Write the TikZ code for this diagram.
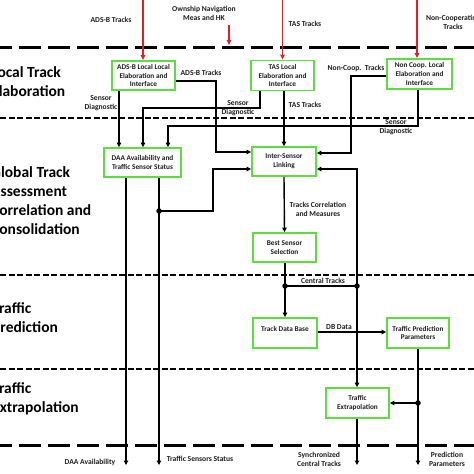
\documentclass[tikz,border=0pt]{standalone}
\usepackage{fontspec}
\setmainfont{Carlito}
\usetikzlibrary{arrows.meta}
\definecolor{boxgreen}{RGB}{92,222,62}
\definecolor{arrred}{RGB}{226,30,38}
\definecolor{txt}{RGB}{30,30,30}
\begin{document}
\begin{tikzpicture}[x=1pt,y=-1pt,
  fn/.style={font=\bfseries\fontsize{7.3}{8.7}\selectfont, text=txt},
  proc/.style={draw=boxgreen, line width=1.8pt, fn, align=center, inner sep=1pt},
  lbl/.style={font=\bfseries\fontsize{7.6}{9.2}\selectfont, text=txt, align=center, inner sep=0pt},
  big/.style={font=\bfseries\fontsize{15.5}{19}\selectfont, align=left, anchor=west, inner sep=0pt},
  arr/.style={line width=1.4pt, -{Triangle[length=4.5pt,width=4.5pt]}},
  ln/.style={line width=1.4pt},
  redarr/.style={line width=1.6pt, draw=arrred, -{Triangle[length=5pt,width=4.5pt]}, arrred},
  sep/.style={line width=3pt, dash pattern=on 22pt off 7pt, dash phase=10pt},
  septhin/.style={line width=2pt, dash pattern=on 6pt off 2.5pt},
  dot/.style={circle, fill=black, inner sep=0pt, minimum size=5.5pt}
]
\useasboundingbox (0,0) rectangle (474,474);
\fill[white] (0,0) rectangle (474,474);

% separators
\coordinate (s1a) at (0,47);  \coordinate (s1b) at (474,47);
\coordinate (s2a) at (0,118); \coordinate (s2b) at (474,118);
\coordinate (s3a) at (0,275); \coordinate (s3b) at (474,275);
\coordinate (s4a) at (0,369); \coordinate (s4b) at (474,369);
\coordinate (s5a) at (0,445); \coordinate (s5b) at (474,445);
\draw[sep] (s1a) -- (s1b);
\draw[septhin] (s2a) -- (s2b);
\draw[septhin] (s3a) -- (s3b);
\draw[septhin] (s4a) -- (s4b);
\draw[sep] (s5a) -- (s5b);

% section titles
\node[big] (t1) at (-9,81.5) {Local Track\\Elaboration};
\node[big] (t2) at (-9,200.5) {Global Track\\Assessment\\Correlation and\\Consolidation};
\node[big] (t3) at (-8,318) {Traffic\\Prediction};
\node[big] (t4) at (-8,398.5) {Traffic\\Extrapolation};

% boxes
\node[proc, minimum width=63pt, minimum height=29pt] (ads) at (143.5,75.5) {ADS-B Local Local\\Elaboration and\\Interface};
\node[proc, minimum width=63pt, minimum height=30pt] (tas) at (282.5,75.5) {TAS Local\\Elaboration and\\Interface};
\node[proc, minimum width=65pt, minimum height=30pt] (nc) at (419.5,74) {Non Coop. Local\\Elaboration and\\Interface};
\node[proc, minimum width=77pt, minimum height=29pt] (daa) at (142.5,162.5) {DAA Availability and\\Traffic Sensor Status};
\node[proc, minimum width=64pt, minimum height=29pt] (isl) at (284,161.5) {Inter-Sensor\\Linking};
\node[proc, minimum width=63pt, minimum height=29pt] (bss) at (284.5,247.5) {Best Sensor\\Selection};
\node[proc, minimum width=64pt, minimum height=30pt] (tdb) at (285,333) {Track Data Base\\ \phantom{X}};
\node[proc, minimum width=62pt, minimum height=30pt] (tpp) at (418,333) {Traffic Prediction\\Parameters};
\node[proc, minimum width=63pt, minimum height=30pt] (tex) at (357.5,403) {Traffic\\Extrapolation};

% external inputs
\coordinate (inads) at (143,0);
\coordinate (inown1) at (229,25);
\coordinate (inown2) at (229,45);
\coordinate (intas) at (282.5,0);
\coordinate (innc) at (417,0);
\draw[redarr] (inads) -- (inads |- ads.north);
\draw[redarr] (inown1) -- (inown2);
\draw[redarr] (intas) -- (intas |- tas.north);
\draw[redarr] (innc) -- (innc |- nc.north);

% sensor diagnostics
\draw[arr] (119,0 |- ads.south) -- (119,0 |- daa.north);
\draw[arr] (260,0 |- tas.south) -- (260,108) -- (143,108) -- (143,0 |- daa.north);
\draw[arr] (418,0 |- nc.south) -- (418,126) -- (168,126) -- (168,0 |- daa.north);

% tracks into linking
\draw[arr] (ads.east |- 0,81) -- (216,81) -- (216,152) -- (isl.west |- 0,152);
\draw[arr] (284,0 |- tas.south) -- (isl.north);
\draw[arr] (nc.west |- 0,76) -- (351,76) -- (351,153) -- (isl.east |- 0,153);

% DAA outputs
\coordinate (o1) at (126,465);
\coordinate (o2) at (159,465);
\node[dot] (d1) at (159,211) {};
\draw[arr] (126,0 |- daa.south) -- (o1);
\draw[arr] (159,0 |- daa.south) -- (o2);
\draw[arr] (d1.center) -- (213,211) -- (213,169) -- (isl.west |- 0,169);

% global chain
\draw[arr] (isl.south) -- (bss.north);
\node[dot] (d2) at (285,286) {};
\node[dot] (d3) at (357,286) {};
\draw[ln] (285,0 |- bss.south) -- (d2.center);
\draw[arr] (d2.center) -- (285,0 |- tdb.north);
\draw[ln] (d2.center) -- (d3.center);
\draw[arr] (d3.center) -- (357,169) -- (isl.east |- 0,169);
\draw[arr] (d3.center) -- (357,0 |- tex.north);

% prediction
\draw[arr] (tdb.east |- 0,332) -- (tpp.west |- 0,332);
\coordinate (o4) at (418,465);
\node[dot] (d4) at (418,403) {};
\draw[arr] (418,0 |- tpp.south) -- (o4);
\draw[arr] (d4.center) -- (tex.east |- 0,403);
\coordinate (o3) at (357,465);
\draw[arr] (357,0 |- tex.south) -- (o3);

% labels
\node[lbl] (l1) at (111,20) {ADS-B Tracks};
\node[lbl] (l2) at (204,13) {Ownship Navigation\\Meas and HK};
\node[lbl] (l3) at (305,24) {TAS Tracks};
\node[lbl] (l4) at (453,22) {Non-Cooperating\\Tracks};
\node[lbl] (l5) at (101,103) {Sensor\\Diagnostic};
\node[lbl] (l6) at (238,108) {Sensor\\Diagnostic};
\node[lbl] (l7) at (396,127) {Sensor\\Diagnostic};
\node[lbl] (l8) at (201,73) {ADS-B Tracks};
\node[lbl] (l9) at (305,105) {TAS Tracks};
\node[lbl] (l10) at (356,68) {Non-Coop.~~Tracks};
\node[lbl] (l11) at (318,209) {Tracks Correlation\\and Measures};
\node[lbl] (l12) at (323,281) {Central Tracks};
\node[lbl] (l13) at (339,327) {DB Data};
\node[lbl] (l14) at (90,462) {DAA Availability};
\node[lbl] (l15) at (200,459) {Traffic Sensors Status};
\node[lbl] (l16) at (319,459) {Synchronized\\Central Tracks};
\node[lbl] (l17) at (447,459) {Prediction\\Parameters};
\end{tikzpicture}
\end{document}
